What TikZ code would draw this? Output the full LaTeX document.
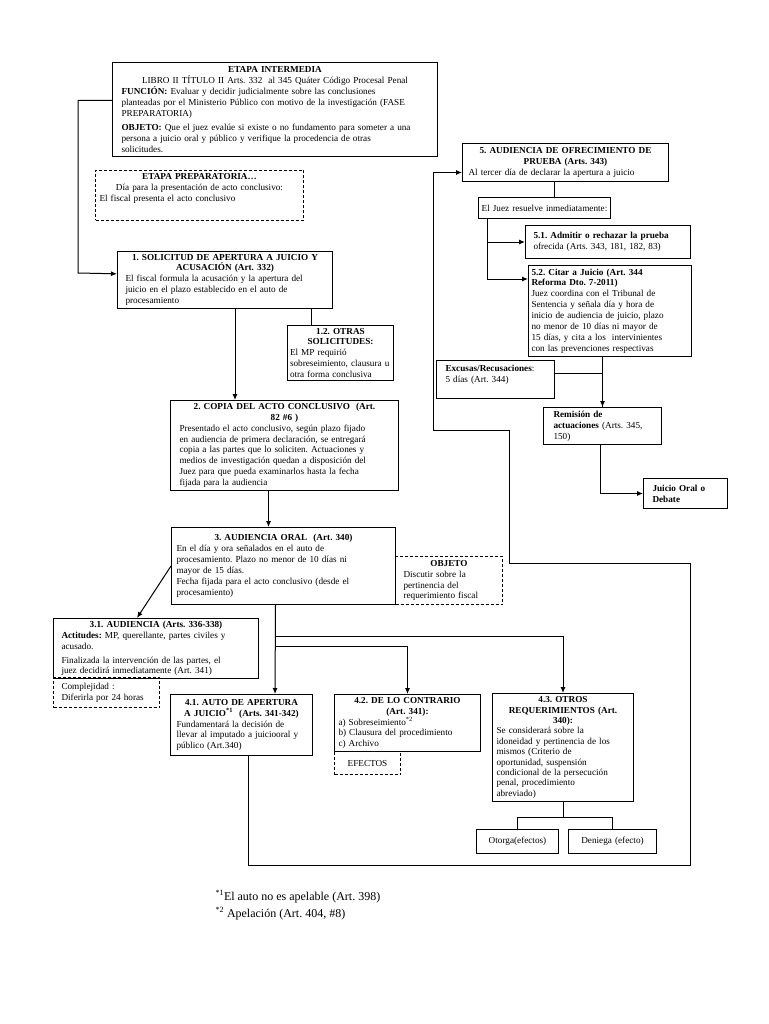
\documentclass[tikz,border=0pt]{standalone}
\usepackage{fontspec}
\setmainfont{Liberation Serif}
\usetikzlibrary{arrows.meta}
\frenchspacing

\begin{document}
\begin{tikzpicture}[x=1pt,y=-1pt,>={Latex[length=6pt,width=5pt]},line width=1pt,
  caja/.style={rectangle,draw,anchor=north west,inner ysep=2.5pt,inner xsep=4pt,align=left,font=\fontsize{9.2}{10.9}\selectfont},
  cajap/.style={caja,dash pattern=on 3pt off 2pt}]
\useasboundingbox (0,0) rectangle (768,1024);
% etapa intermedia
\node (inter) at (112,62) [caja,inner xsep=9pt,text width=307pt,minimum height=94pt] {{\centering\textbf{ETAPA INTERMEDIA}\\LIBRO II TÍTULO II Arts. 332\ \ al 345 Quáter Código Procesal Penal\par}\textbf{FUNCIÓN:} Evaluar y decidir judicialmente sobre las conclusiones\\planteadas por el Ministerio Público con motivo de la investigación (FASE\\PREPARATORIA)\par\smallskip\textbf{OBJETO:} Que el juez evalúe si existe o no fundamento para someter a una\\persona a juicio oral y público y verifique la procedencia de otras\\solicitudes.};
\node (prep) at (95,170) [cajap,text width=200pt,minimum height=50pt] {{\centering\textbf{ETAPA PREPARATORIA…}\\Día para la presentación de acto conclusivo:\par}El fiscal presenta el acto conclusivo\par\rule{0pt}{13pt}};
\node (n1) at (117,251) [caja,inner xsep=8pt,text width=199pt,minimum height=56pt] {{\centering\textbf{1. SOLICITUD DE APERTURA A JUICIO Y\\ACUSACIÓN (Art. 332)}\par}El fiscal formula la acusación y la apertura del\\juicio en el plazo establecido en el auto de\\procesamiento};
\node (n12) at (287,325) [caja,inner xsep=2.5pt,text width=101pt,minimum height=54pt] {{\centering\textbf{1.2. OTRAS\\SOLICITUDES:}\par}El MP requirió\\sobreseimiento, clausura u\\otra forma conclusiva};
\node (n2) at (170,400) [caja,inner xsep=9pt,text width=210pt,minimum height=88pt] {{\centering\textbf{2. COPIA DEL ACTO CONCLUSIVO\ \ (Art.\\82 \#6 )}\par}Presentado el acto conclusivo, según plazo fijado\\en audiencia de primera declaración, se entregará\\copia a las partes que lo soliciten. Actuaciones y\\medios de investigación quedan a disposición del\\Juez para que pueda examinarlos hasta la fecha\\fijada para la audiencia};
\node (n3) at (171,527) [caja,inner xsep=5pt,text width=214pt,minimum height=77pt] {{\centering\textbf{3. AUDIENCIA ORAL\ \ (Art. 340)}\par}En el día y ora señalados en el auto de\\procesamiento. Plazo no menor de 10 días ni\\mayor de 15 días.\\Fecha fijada para el acto conclusivo (desde el\\procesamiento)};
\node (objeto) at (395,556) [cajap,inner xsep=8pt,text width=91pt,minimum height=48pt] {{\centering\textbf{OBJETO}\par}Discutir sobre la\\pertinencia del\\requerimiento fiscal};
\node (n31) at (53,618) [caja,inner xsep=8pt,text width=189pt,minimum height=59pt] {{\centering\textbf{3.1. AUDIENCIA (Arts. 336-338)}\par}\textbf{Actitudes:} MP, querellante, partes civiles y\\acusado.\par\smallskip Finalizada la intervención de las partes, el\\juez decidirá inmediatamente (Art. 341)};
\node (compl) at (53,677) [cajap,inner xsep=8pt,text width=90pt,minimum height=30pt] {Complejidad :\\Diferirla por 24 horas};
\node (n41) at (170,694) [caja,inner xsep=6pt,text width=130pt,minimum height=61pt] {{\centering\textbf{4.1. AUTO DE APERTURA\\A JUICIO\textsuperscript{*1}\ \ (Arts. 341-342)}\par}Fundamentará la decisión de\\llevar al imputado a juiciooral y\\público (Art.340)};
\node (n42) at (334,694) [caja,text width=138pt,minimum height=57pt] {{\centering\textbf{4.2. DE LO CONTRARIO\\(Art. 341):}\par}a) Sobreseimiento\textsuperscript{*2}\\b) Clausura del procedimiento\\c) Archivo};
\node (efectos) at (334,751) [cajap,align=center,text width=58pt,minimum height=23pt] {EFECTOS};
\node (n43) at (492,693) [caja,text width=133pt,minimum height=108pt,font=\fontsize{9.2}{10.4}\selectfont] {{\centering\textbf{4.3. OTROS\\REQUERIMIENTOS (Art.\\340):}\par}Se considerará sobre la\\idoneidad y pertinencia de los\\mismos (Criterio de\\oportunidad, suspensión\\condicional de la persecución\\penal, procedimiento\\abreviado)};
\node (otorga) at (476,829) [caja,align=center,text width=74pt,minimum height=24pt] {Otorga(efectos)};
\node (deniega) at (568,829) [caja,align=center,text width=80pt,minimum height=24pt] {Deniega (efecto)};
% audiencia de ofrecimiento
\node (n5) at (462,143) [caja,inner xsep=6pt,text width=194pt,minimum height=38pt] {{\centering\textbf{5. AUDIENCIA DE OFRECIMIENTO DE\\PRUEBA (Arts. 343)}\par}Al tercer día de declarar la apertura a juicio};
\node (juez) at (478,197) [caja,inner xsep=1.5pt,align=center,text width=129pt,minimum height=21pt] {El Juez resuelve inmediatamente:};
\node (n51) at (525,225) [caja,inner xsep=8pt,text width=149pt,minimum height=33pt] {\textbf{5.1. Admitir o rechazar la prueba}\\ofrecida (Arts. 343, 181, 182, 83)};
\node (n52) at (528,265) [caja,inner xsep=3pt,text width=157pt,minimum height=91pt] {\textbf{5.2. Citar a Juicio (Art. 344\\Reforma Dto. 7-2011)}\\Juez coordina con el Tribunal de\\Sentencia y señala día y hora de\\inicio de audiencia de juicio, plazo\\no menor de 10 días ni mayor de\\15 días, y cita a los\ \ intervinientes\\con las prevenciones respectivas};
\node (excusas) at (436,360) [caja,inner xsep=9pt,text width=100pt,minimum height=38pt] {\textbf{Excusas/Recusaciones}:\\5 días (Art. 344)\par\rule{0pt}{8pt}};
\node (remis) at (543,407) [caja,inner xsep=10pt,text width=98pt,minimum height=37pt] {\textbf{Remisión de}\\\textbf{actuaciones} (Arts. 345,\\150)};
\node (juicio) at (643,478) [caja,inner xsep=9pt,text width=66pt,minimum height=30pt] {\textbf{Juicio Oral o}\\\textbf{Debate}};
% notas
\node (nota1) at (215,900) [anchor=base west,inner sep=0pt,font=\fontsize{12}{14}\selectfont] {\textsuperscript{*1}El auto no es apelable (Art. 398)};
\node (nota2) at (215,917) [anchor=base west,inner sep=0pt,font=\fontsize{12}{14}\selectfont] {\textsuperscript{*2} Apelación (Art. 404, \#8)};
% conectores
\coordinate (izq) at (78,273);
\coordinate (r4) at (275,636);
\coordinate (r42) at (275,646);
\draw[->] ([yshift=9pt]inter.west) -| (izq) -- ([yshift=6pt]n1.west);
\draw[->] ([xshift=10pt]n1.south) -- ([xshift=10pt]n1.south |- n2.north);
\draw ([xshift=24pt]n12.north west) -- ([xshift=24pt]n12.north west |- n1.south);
\draw[->] ([xshift=-16pt]n2.south) -- ([xshift=-16pt]n2.south |- n3.north);
\draw[->] (n3.west) -- ([xshift=84pt]n31.north west);
\draw[->] ([xshift=-8pt]n3.south) -- (n41.north -| r4);
\draw[->] (r4) -| (n43.north);
\draw[->] (r42) -| (n42.north);
\draw (n43.south) |- (otorga.north |- 0,817) -- (otorga.north);
\draw (n43.south) |- (deniega.north |- 0,817) -- (deniega.north);
\draw[->] ([xshift=7pt]n41.south) |- (690,865) |- (509,563) |- (433,430) |- ([yshift=-10pt]n5.west);
\draw ([xshift=-11pt]n5.south) -- ([xshift=-11pt]n5.south |- juez.north);
\draw[->] ([xshift=9pt]juez.south west) |- (n51.west);
\draw[->] ([xshift=9pt]juez.south west) |- ([yshift=32pt]n52.west);
\draw[->] (remis.north |- n52.south) -- (remis.north);
\draw ([yshift=6pt]excusas.east) -| (remis.north);
\draw[->] ([xshift=-2pt]remis.south) |- (juicio.west);
\end{tikzpicture}
\end{document}
